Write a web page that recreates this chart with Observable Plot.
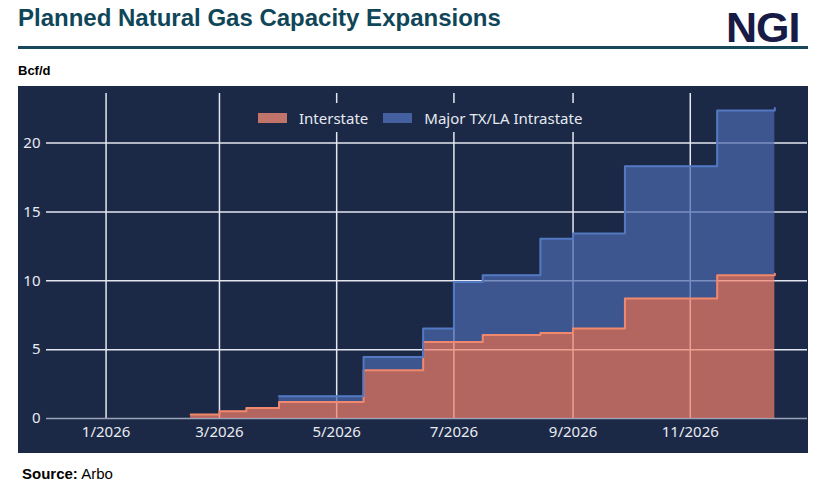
<!DOCTYPE html>
<html>
<head>
<meta charset="utf-8">
<script src="https://cdn.jsdelivr.net/npm/d3@7"></script>
<script src="https://cdn.jsdelivr.net/npm/@observablehq/plot@0.6"></script>
<style>
  html, body { margin: 0; padding: 0; background: #ffffff; }
  body { width: 828px; height: 488px; position: relative; overflow: hidden; font-family: "Liberation Sans", Arial, sans-serif; }
  #title { position: absolute; left: 18px; top: 6px; font-size: 24px; font-weight: bold; color: #0f4658; line-height: 1; white-space: nowrap; }
  #logo { position: absolute; left: 726px; top: 6px; font-size: 43px; font-weight: bold; color: #171b45; line-height: 1; letter-spacing: -1px; }
  #rule { position: absolute; left: 18px; top: 46px; width: 790px; height: 3px; background: #16475a; }
  #unit { position: absolute; left: 18px; top: 64px; font-size: 13px; font-weight: bold; color: #000; line-height: 1; }
  #panel { position: absolute; left: 18px; top: 86px; width: 790px; height: 367px; background: #1b2947; }
  #panel svg { position: absolute; left: 0; top: 0; }
  #legend { position: absolute; left: 228px; top: 17px; height: 29px; padding: 0 12px; background: #1b2947;
            display: flex; align-items: center; font-family: "Noto Sans", sans-serif; font-size: 15px; color: #e6e9f0; }
  #legend .sw { width: 29px; height: 10px; margin-right: 12px; }
  #legend .item { display: flex; align-items: center; margin-right: 15px; }
  #legend .item:last-child { margin-right: 0; }
  #source { position: absolute; left: 22px; top: 466px; font-size: 15px; color: #000; line-height: 1; }
</style>
</head>
<body>
<div id="title">Planned Natural Gas Capacity Expansions</div>
<div id="logo">NGI</div>
<div id="rule"></div>
<div id="unit">Bcf/d</div>
<div id="panel"></div>
<div id="source"><b>Source:</b> Arbo</div>
<script>
// Step dates at which the planned capacity changes (Bcf/d, cumulative)
const dates = ["2026-02-14", "2026-03-01", "2026-03-15", "2026-04-01", "2026-05-15", "2026-06-15",
               "2026-07-01", "2026-07-16", "2026-08-15", "2026-09-01", "2026-09-28", "2026-11-15", "2026-12-15"];
const interstate = [0.29, 0.53, 0.77, 1.20, 3.50, 5.56, 5.56, 6.06, 6.21, 6.53, 8.71, 10.40, 10.52];
const intrastate = [null, null, null, 0.42, 0.97, 0.97, 4.35, 4.35, 6.85, 6.90, 9.60, 11.97, 12.02];

const seriesNames = ["Interstate", "Major TX/LA Intrastate"];
const fillColors = ["#f4806a", "#4d6aae"];
const lineColors = ["#f0886e", "#5379c2"];
const swatchColors = ["#c0746a", "#4560a0"];

const xTicks = ["2026-01-01", "2026-03-01", "2026-05-01", "2026-07-01", "2026-09-01", "2026-11-01"];
const yTicks = [0, 5, 10, 15, 20];

// Long table: one row per date and series
const rows = dates.flatMap((d, i) => [
  {date: new Date(d), series: seriesNames[0], value: interstate[i]},
  {date: new Date(d), series: seriesNames[1], value: intrastate[i]}
]).filter(r => r.value != null);

const lineColorOf = Object.fromEntries(seriesNames.map((s, i) => [s, lineColors[i]]));
const gridStyle = {stroke: "#e4e7ef", strokeOpacity: 1, strokeWidth: 1.5};

const chart = Plot.plot({
  width: 790,
  height: 367,
  marginLeft: 28,
  marginRight: 1,
  marginTop: 7,
  marginBottom: 35,
  style: {background: "transparent", color: "#e9ecf2", fontFamily: "Noto Sans, sans-serif", fontSize: "15px"},
  x: {
    type: "utc",
    domain: [new Date("2025-12-01"), new Date("2027-01-01")],
    ticks: xTicks.map(d => new Date(d)),
    tickFormat: d => `${d.getUTCMonth() + 1}/${d.getUTCFullYear()}`,
    tickSize: 0,
    tickPadding: 8,
    label: null
  },
  y: {domain: [0, 23.6], ticks: yTicks, tickSize: 0, tickPadding: 6, label: null},
  color: {domain: seriesNames, range: fillColors},
  marks: [
    Plot.gridX(xTicks.map(d => new Date(d)), gridStyle),
    Plot.gridY(yTicks.filter(v => v > 0), gridStyle),
    Plot.ruleY([0], {stroke: "#9aa3b6", strokeWidth: 1.5}),
    Plot.areaY(rows, {x: "date", y: "value", z: "series", fill: "series", fillOpacity: 0.7, curve: "step-after"}),
    Plot.lineY(rows, Plot.stackY2({x: "date", y: "value", z: "series",
      stroke: d => lineColorOf[d.series], strokeWidth: 2, curve: "step-after"}))
  ]
});
document.getElementById("panel").appendChild(chart);

// Legend drawn over the top of the grid
const legend = document.createElement("div");
legend.id = "legend";
seriesNames.forEach((s, i) => {
  const item = document.createElement("div");
  item.className = "item";
  const sw = document.createElement("div");
  sw.className = "sw";
  sw.style.background = swatchColors[i];
  const label = document.createElement("span");
  label.textContent = s;
  item.append(sw, label);
  legend.appendChild(item);
});
document.getElementById("panel").appendChild(legend);
</script>
</body>
</html>
